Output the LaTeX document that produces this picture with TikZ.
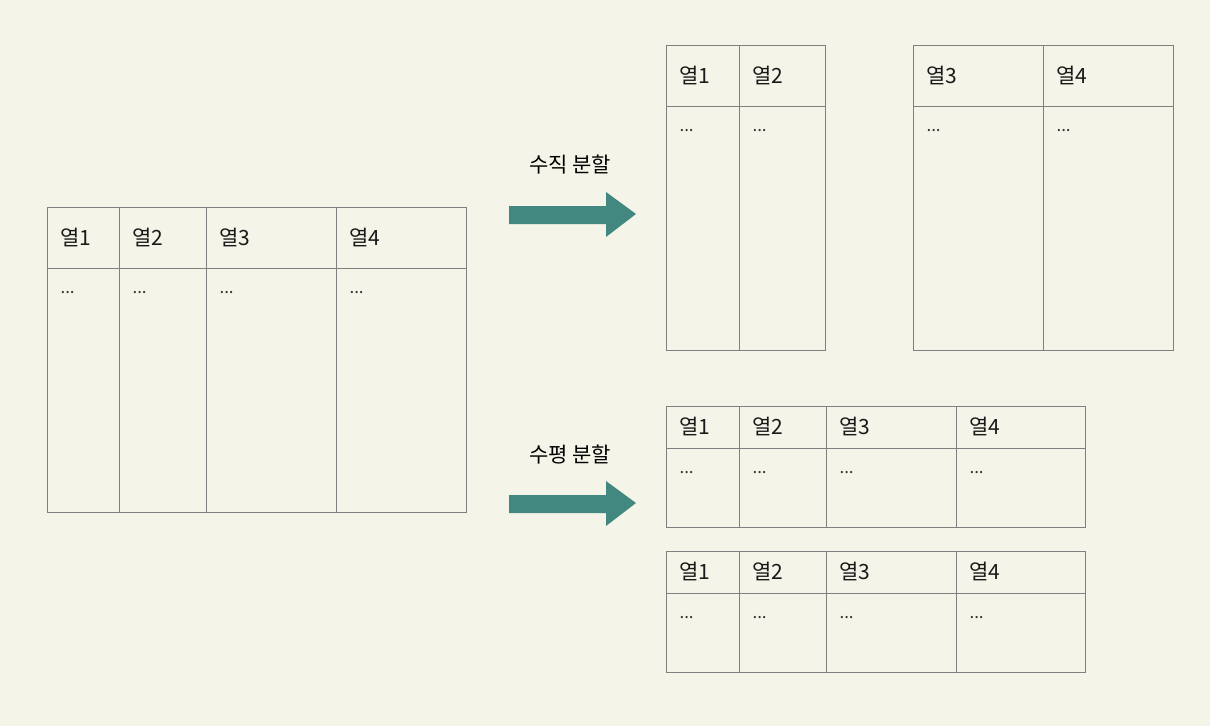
\documentclass[tikz,border=0pt]{standalone}
\usepackage{fontspec}
\setmainfont{Noto Sans CJK KR}
\begin{document}
\begin{tikzpicture}[x=1pt,y=-1pt,
  ln/.style={draw=black!50,line width=0.9pt},
  hd/.style={anchor=west,font=\fontsize{21}{24}\selectfont,text=black!90},
  dt/.style={anchor=west,font=\fontsize{17}{20}\selectfont,text=black!80}]
\definecolor{bg}{HTML}{F5F4E8}
\definecolor{ar}{HTML}{438880}
\fill[bg] (0,0) rectangle (1210,726);
\useasboundingbox (0,0) rectangle (1210,726);
\newcommand{\mytab}[6]{%
  \draw[ln] (#1,#2) rectangle (#3,#4);
  \draw[ln] (#1,#5) -- (#3,#5);
  \foreach \cx/\lab [count=\i] in {#6}{
    \ifnum\i>1 \draw[ln] (\cx,#2) -- (\cx,#4); \fi
    \node[hd] at (\cx+10,{(#2+#5)/2}) {\lab};
    \node[dt] at (\cx+10,#5+25) {...};
  }}
\mytab{47}{207}{466}{512}{268}{47/열1,119/열2,206/열3,336/열4}
\mytab{666}{45}{825}{350}{106}{666/열1,739/열2}
\mytab{913}{45}{1173}{350}{106}{913/열3,1043/열4}
\mytab{666}{406}{1085}{527}{448}{666/열1,739/열2,826/열3,956/열4}
\mytab{666}{551}{1085}{672}{593}{666/열1,739/열2,826/열3,956/열4}
\node[font=\fontsize{21}{24}\selectfont] (l1) at (570,165) {수직 분할};
\node[font=\fontsize{21}{24}\selectfont] (l2) at (570,455) {수평 분할};
\fill[ar] (509,206) -- (606,206) -- (606,192) -- (636,214) -- (606,237) -- (606,224) -- (509,224) -- cycle;
\fill[ar] (509,495) -- (606,495) -- (606,481) -- (636,503) -- (606,526) -- (606,513) -- (509,513) -- cycle;
\end{tikzpicture}
\end{document}
